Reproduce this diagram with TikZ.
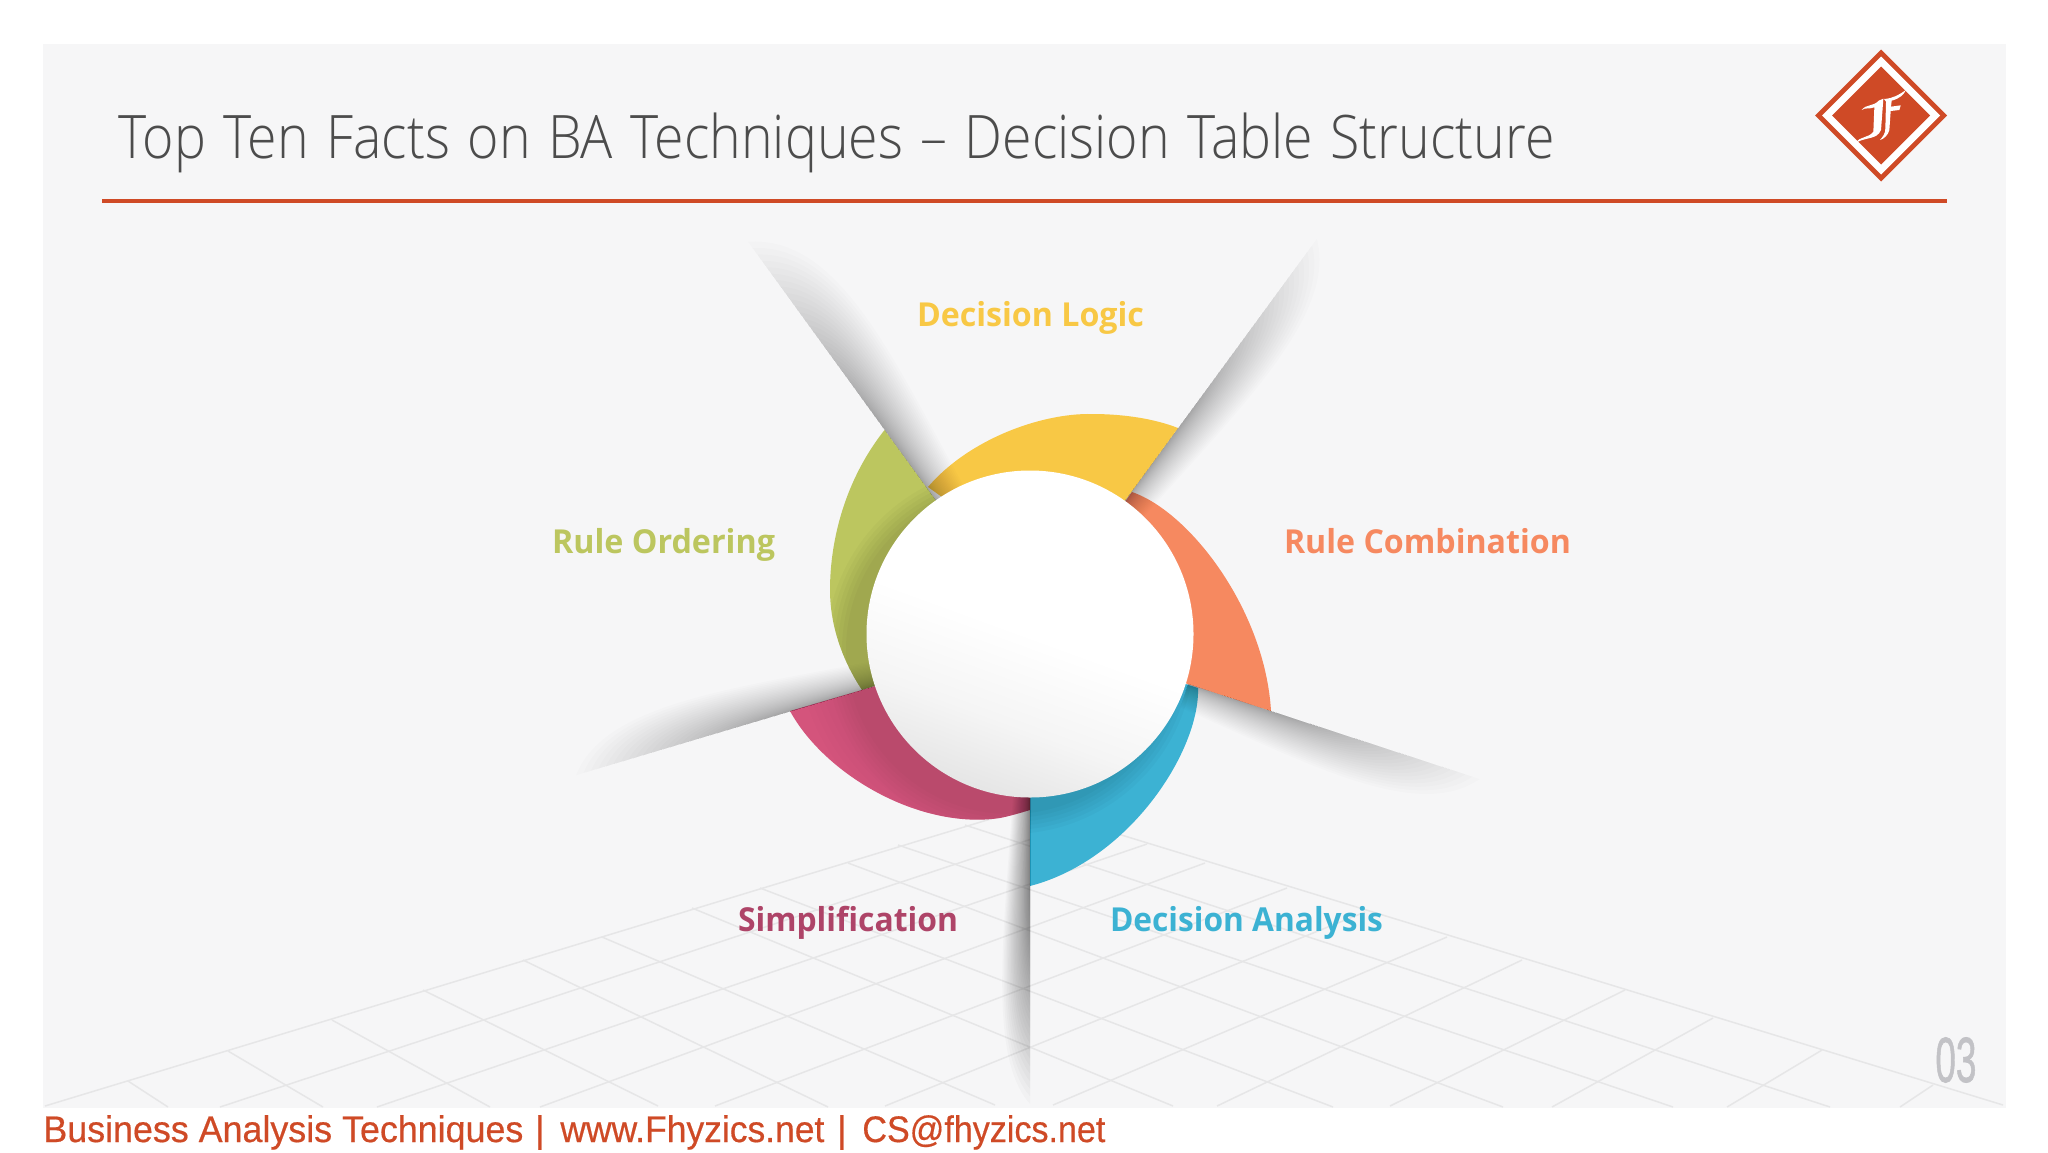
\documentclass[tikz,border=0pt]{standalone}
\usepackage{graphicx}
\usepackage{fontspec}
\setmainfont{Liberation Sans}
\newfontfamily\titlefont{Open Sans Light}[WordSpace=1.25]
\newfontfamily\labelfont{Open Sans}
\newfontfamily\footfont{Liberation Sans}[FakeBold=0.5]
\newfontfamily\numfont{Liberation Sans}[FakeBold=1.2]
\definecolor{panel}{HTML}{F6F6F7}
\definecolor{gridc}{HTML}{E6E6E7}
\definecolor{brand}{HTML}{CF4A26}
\definecolor{cyel}{HTML}{F8C845}
\definecolor{cora}{HTML}{F68960}
\definecolor{cblu}{HTML}{3CB2D3}
\definecolor{cpin}{HTML}{D4547C}
\definecolor{cgre}{HTML}{BCC65F}
\definecolor{lpin}{HTML}{AE4468}
\definecolor{cnum}{HTML}{C2C2C6}
\pgfdeclareverticalshading{discshade}{100bp}{color(0bp)=(black!10); color(25bp)=(black!10); color(36bp)=(black!4); color(50bp)=(white); color(100bp)=(white)}
\newsavebox\fitbox
\newcommand\fitw[2]{\sbox\fitbox{#2}\pgfmathsetmacro\fitr{(#1*0.5)/\the\wd\fitbox}\scalebox{\fitr}[1]{\usebox\fitbox}}
% shadow fin: start x,y; end x,y; width; layer opacity
\newcommand\fin[6]{%
  \foreach \g in {1,...,10}{\fill[white,opacity=.07] (#3,#4) circle ({2.6*\g});}
  \pgfmathsetmacro\dx{(#3-#1)*.5}
  \pgfmathsetmacro\dy{-(#4-#2)*.5}
  \pgfmathsetmacro\len{veclen(\dx,\dy)}
  \pgfmathsetmacro\px{\dy/\len*.5}
  \pgfmathsetmacro\py{-\dx/\len*.5}
  \begin{scope}[shift={(#1,#2)},x={(\dx pt,\dy pt)},y={(\px pt,\py pt)}]
    \foreach \i in {1,...,30}{
      \pgfmathsetmacro\w{#5*pow(\i/30,1.7)}
      \pgfmathsetmacro\t{0.25+0.7*\i/30}
      \fill[black,opacity=#6] (0,0) -- (0,{\w*.45}) .. controls ({\t*.45},{\w*.7}) and ({\t*.85},{\w*1.1}) .. (\t,0) -- cycle;
    }
  \end{scope}}
\newcommand\petalshadow[2]{\begin{scope}\clip #1;
  \foreach \r in {164,168,...,184}{\fill[black,opacity=#2] (1010,650) circle (\r);}
  \end{scope}}
\def\pyel{(928,487) .. controls (968,440) and (1040,413) .. (1092,414) .. controls (1125,414) and (1155,419) .. (1178,428) -- (1124,502) -- (1030,560) -- cycle}
\def\pora{(1132,492) .. controls (1190,512) and (1265,610) .. (1271,711) -- (1188,684) -- (1030,634) -- cycle}
\def\pblu{(1198,688) .. controls (1200,750) and (1130,860) .. (1030,886) -- (1030,634) -- cycle}
\def\ppin{(790,711) .. controls (825,775) and (920,830) .. (1000,818) .. controls (1010,816) and (1020,813) .. (1030,810) -- (1030,634) -- (879,685) -- cycle}
\def\pgre{(884.5,430) .. controls (845,480) and (830,540) .. (830,590) .. controls (830,625) and (842,660) .. (862,690) -- (1030,634) -- (937,502) -- cycle}
\tikzset{
  gridline/.style={draw=gridc,line width=.75pt},
  lbl/.style={anchor=base west,inner sep=0pt,outer sep=0pt,font=\labelfont\bfseries\fontsize{16.5}{20}\selectfont},
}
\begin{document}
\begin{tikzpicture}[x=0.5pt,y=-0.5pt]
\useasboundingbox (0,0) rectangle (2048,1152);
\fill[white] (0,0) rectangle (2048,1152);
\fill[panel] (43,44) rectangle (2006,1108);
% floor grid
\foreach \a/\b/\c/\d in {
  1030/807/45/1106, 1030/807/2003/1105,
  1080/823/220/1107, 1147/844/377/1107, 1205/863/540/1107, 1287/888/715/1106,
  1365/912/885/1106, 1447/937/1053/1105, 1522/960/1217/1106, 1625/990/1390/1106,
  1713/1018/1552/1107, 1822/1050/1727/1107, 1933/1085/1900/1107,
  965/825/1830/1107, 898/845/1673/1107, 848/863/1503/1107, 760/888/1333/1107,
  692/908/1173/1106, 602/937/995/1105, 523/960/828/1107, 423/990/658/1106,
  332/1020/490/1107, 228/1051/323/1107, 128/1081/168/1107}
  {\draw[gridline] (\a,\b) -- (\c,\d);}
% petals
\fill[cgre] \pgre; \petalshadow{\pgre}{.025}
\fill[cyel] \pyel;
\fill[cora] \pora;
\fill[cblu] \pblu; \petalshadow{\pblu}{.025}
\fill[cpin] \ppin; \petalshadow{\ppin}{.012}
\begin{scope}\clip \ppin;
  \foreach \r in {190,196,...,208}{\fill[black,opacity=.008] (1005,640) circle (\r);}
\end{scope}
% shadow fins
\fin{937}{502}{738}{228}{70}{.012}
\fin{1124}{502}{1327}{225}{55}{.012}
\fin{1188}{684}{1495}{784}{55}{.012}
\fin{879}{685}{560}{780}{55}{.012}
\fin{1030}{797}{1030}{1120}{38}{.019}
% centre disc
\shade[shading=discshade,shading angle=-20] (1030,634) circle (163.5);
% title, rule, logo
\node[anchor=base west,inner sep=0pt,text=black!70] (title) at (118,158)
  {\fitw{1436}{\titlefont\fontsize{30}{36}\selectfont Top Ten Facts on BA Techniques – Decision Table Structure}};
\fill[brand] (102,198.8) rectangle (1947,203.2);
\fill[brand] (1881,49.5) -- (1947,115.5) -- (1881,181.5) -- (1815,115.5) -- cycle;
\fill[white] (1881,56.5) -- (1940,115.5) -- (1881,174.5) -- (1822,115.5) -- cycle;
\fill[brand] (1881,66.5) -- (1930,115.5) -- (1881,164.5) -- (1832,115.5) -- cycle;
\begin{scope}[shift={(1780,30)},scale=1/3]
  \fill[white] (245,240) .. controls (258,222) and (280,230) .. (296,212) -- (310,206) -- (303,300)
    .. controls (290,330) and (260,320) .. (228,338) .. controls (240,318) and (265,325) .. (280,305)
    -- (283,232) .. controls (268,238) and (255,232) .. (245,240) -- cycle;
  \fill[white] (312,207) .. controls (340,205) and (355,195) .. (378,180) .. controls (370,195) and (360,205) .. (335,212)
    -- (333,230) -- (362,226) -- (358,240) -- (332,243) -- (328,300)
    .. controls (325,315) and (310,328) .. (300,330) .. controls (310,318) and (316,310) .. (316,295)
    -- (318,215) -- cycle;
\end{scope}
% labels
\node[lbl,text=cyel] (logic) at (917,326) {\fitw{227}{Decision Logic}};
\node[lbl,text=cora] (comb) at (1284,553.5) {\fitw{287}{Rule Combination}};
\node[lbl,text=cgre] (order) at (552,553.5) {\fitw{223}{Rule Ordering}};
\node[lbl,text=lpin] (simp) at (738,931) {\fitw{220}{Simplification}};
\node[lbl,text=cblu] (analysis) at (1110,931) {\fitw{273}{Decision Analysis}};
% page number, footer
\node[anchor=base west,inner sep=0pt,text=cnum,font=\numfont\fontsize{32}{36}\selectfont] (page) at (1935,1082) {\fitw{41}{03}};
\node[anchor=base west,inner sep=0pt,text=brand,font=\footfont\fontsize{18.5}{20}\selectfont] (footer) at (43,1142)
  {\fitw{480}{Business Analysis Techniques}\hspace{6pt}\fitw{9}{|}\hspace{8pt}\fitw{264}{www.Fhyzics.net}\hspace{6.5pt}\fitw{9}{|}\hspace{8pt}\fitw{243}{CS@fhyzics.net}};
\end{tikzpicture}
\end{document}
